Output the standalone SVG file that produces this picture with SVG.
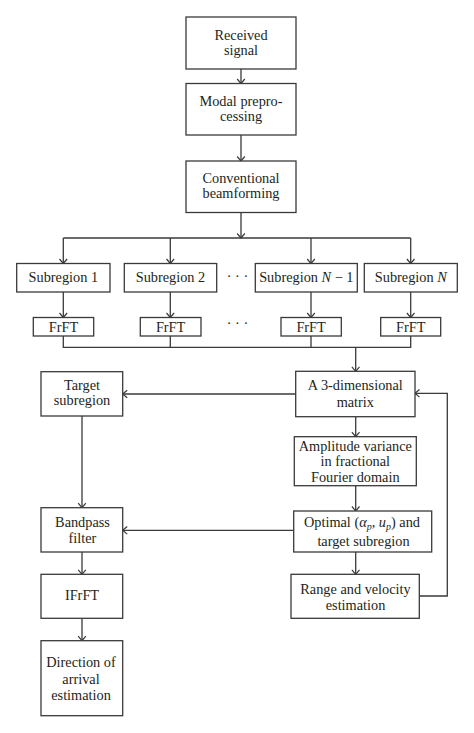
<svg xmlns="http://www.w3.org/2000/svg" width="474" height="733" viewBox="0 0 474 733">
<defs>
<marker id="ah" viewBox="-6 -5 7 10" refX="0" refY="0" markerWidth="7" markerHeight="10" markerUnits="userSpaceOnUse" orient="auto">
<path d="M-4.5,-3.8 L0,0 L-4.5,3.8" fill="none" stroke="#3a3a3a" stroke-width="1.2"/>
</marker>
</defs>
<style>
rect{fill:#fff;stroke:#3a3a3a;stroke-width:1.3}
text{font-family:"Liberation Serif","Times New Roman",serif;font-size:14.3px;fill:#231f20;text-anchor:middle}
.c{fill:none;stroke:#3a3a3a;stroke-width:1.3}
.a{marker-end:url(#ah)}
.i{font-style:italic}
</style>
<rect x="0" y="0" width="474" height="733" style="fill:#fff;stroke:none"/>
<g id="connectors">
<line class="c a" x1="241" y1="69" x2="241" y2="83.5"/>
<line class="c a" x1="241" y1="135" x2="241" y2="161"/>
<line class="c a" x1="241" y1="212.5" x2="241" y2="238"/>
<line class="c" x1="63.3" y1="238" x2="410.7" y2="238"/>
<line class="c a" x1="63.3" y1="238" x2="63.3" y2="263.5"/>
<line class="c a" x1="170.3" y1="238" x2="170.3" y2="263.5"/>
<line class="c a" x1="311" y1="238" x2="311" y2="263.5"/>
<line class="c a" x1="410.7" y1="238" x2="410.7" y2="263.5"/>
<line class="c a" x1="63.3" y1="292" x2="63.3" y2="317.5"/>
<line class="c a" x1="170.3" y1="292" x2="170.3" y2="317.5"/>
<line class="c a" x1="311" y1="292" x2="311" y2="317.5"/>
<line class="c a" x1="410.7" y1="292" x2="410.7" y2="317.5"/>
<polyline class="c" points="63.3,336 63.3,347.3 410.7,347.3 410.7,336"/>
<line class="c" x1="170.3" y1="336" x2="170.3" y2="347.3"/>
<line class="c" x1="311" y1="336" x2="311" y2="347.3"/>
<line class="c a" x1="355.7" y1="347.3" x2="355.7" y2="371.3"/>
<line class="c a" x1="295.7" y1="394" x2="122.7" y2="394"/>
<polyline class="c a" points="419.3,596 447.3,596 447.3,393.3 415,393.3"/>
<line class="c a" x1="355.7" y1="416.7" x2="355.7" y2="436.7"/>
<line class="c a" x1="355.7" y1="485.7" x2="355.7" y2="511"/>
<line class="c a" x1="293.7" y1="530.3" x2="122.7" y2="530.3"/>
<line class="c a" x1="355.7" y1="552" x2="355.7" y2="574.3"/>
<line class="c a" x1="82" y1="416" x2="82" y2="507.7"/>
<line class="c a" x1="82" y1="552" x2="82" y2="574.3"/>
<line class="c a" x1="82" y1="618.3" x2="82" y2="640.7"/>
</g>
<g id="received">
<rect x="186" y="17" width="110" height="52"/>
<text x="241" y="40">Received</text>
<text x="241" y="55">signal</text>
</g>
<g id="modal">
<rect x="186" y="83.5" width="110" height="51.5"/>
<text x="241" y="106">Modal prepro-</text>
<text x="241" y="121">cessing</text>
</g>
<g id="beamforming">
<rect x="186" y="161" width="110" height="51.5"/>
<text x="241" y="183">Conventional</text>
<text x="241" y="198">beamforming</text>
</g>
<g id="sub1">
<rect x="16.7" y="263.5" width="93.3" height="28.5"/>
<text x="63.3" y="282">Subregion 1</text>
</g>
<g id="sub2">
<rect x="124.3" y="263.5" width="92.4" height="28.5"/>
<text x="170.5" y="282">Subregion 2</text>
</g>
<g id="dots1"><text x="237.5" y="281">· · ·</text></g>
<g id="subN1">
<rect x="255.3" y="263.5" width="102" height="28.5"/>
<text x="306.3" y="282">Subregion <tspan class="i">N</tspan> − 1</text>
</g>
<g id="subN">
<rect x="364.3" y="263.5" width="93" height="28.5"/>
<text x="410.8" y="282">Subregion <tspan class="i">N</tspan></text>
</g>
<g id="frft1">
<rect x="33.3" y="317.5" width="60.4" height="18.5"/>
<text x="63.5" y="332">FrFT</text>
</g>
<g id="frft2">
<rect x="140.3" y="317.5" width="60.7" height="18.5"/>
<text x="170.6" y="332">FrFT</text>
</g>
<g id="dots2"><text x="237.5" y="328">· · ·</text></g>
<g id="frft3">
<rect x="281" y="317.5" width="60.3" height="18.5"/>
<text x="311.1" y="332">FrFT</text>
</g>
<g id="frft4">
<rect x="380.7" y="317.5" width="60" height="18.5"/>
<text x="410.7" y="332">FrFT</text>
</g>
<g id="matrix">
<rect x="295.7" y="371.3" width="119.3" height="45.4"/>
<text x="355.3" y="389.5">A 3-dimensional</text>
<text x="355.3" y="406.5">matrix</text>
</g>
<g id="target">
<rect x="41" y="371.7" width="81.7" height="44.3"/>
<text x="82" y="390">Target</text>
<text x="82" y="404.7">subregion</text>
</g>
<g id="amplitude">
<rect x="294.3" y="436.7" width="122" height="49"/>
<text x="355.3" y="450.5">Amplitude variance</text>
<text x="355.3" y="465.5">in fractional</text>
<text x="355.3" y="481.5">Fourier domain</text>
</g>
<g id="optimal">
<rect x="293.7" y="511" width="138" height="41"/>
<text x="362" y="526.5">Optimal (<tspan class="i">α</tspan><tspan class="i" font-size="10px" dy="3">p</tspan><tspan dy="-3">, </tspan><tspan class="i">u</tspan><tspan class="i" font-size="10px" dy="3">p</tspan><tspan dy="-3">) and</tspan></text>
<text x="363.5" y="546">target subregion</text>
</g>
<g id="range">
<rect x="291" y="574.3" width="128.3" height="44"/>
<text x="355.5" y="593.5">Range and velocity</text>
<text x="355.5" y="609.5">estimation</text>
</g>
<g id="bandpass">
<rect x="41" y="507.7" width="81.7" height="44.3"/>
<text x="82.5" y="526.7">Bandpass</text>
<text x="82.5" y="542.7">filter</text>
</g>
<g id="ifrft">
<rect x="41" y="574.3" width="81.7" height="44"/>
<text x="82" y="599.5">IFrFT</text>
</g>
<g id="doa">
<rect x="41" y="640.7" width="81.7" height="75"/>
<text x="81" y="667.3">Direction of</text>
<text x="81" y="684">arrival</text>
<text x="81" y="700">estimation</text>
</g>
</svg>
